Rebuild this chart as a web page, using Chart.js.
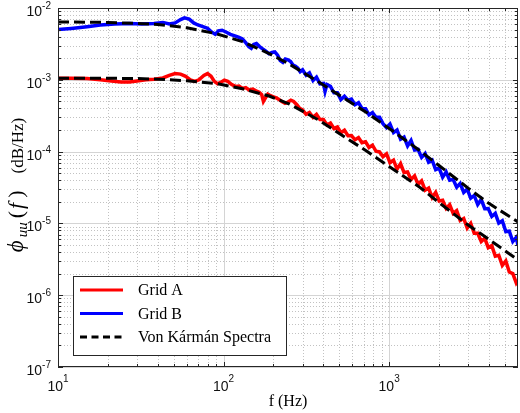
<!DOCTYPE html>
<html>
<head>
<meta charset="utf-8">
<script src="https://cdn.jsdelivr.net/npm/chart.js@4.4.1/dist/chart.umd.min.js"></script>
<style>
html, body { margin: 0; padding: 0; background: #fff; }
#wrap { width: 520px; height: 413px; position: relative; }
</style>
</head>
<body>
<div id="wrap"><canvas id="myChart"></canvas></div>
<script>
// Grid A (red)
var freqA = [10, 12, 15, 18, 21, 24, 27, 30, 34, 38, 43, 47, 51, 55, 59, 63, 67, 71, 76, 80, 84, 88, 92, 96,
  101, 106, 112, 118, 124, 130, 136, 143, 150, 157, 164, 170, 174, 179, 185, 192, 200, 208, 216, 225, 235,
  245, 255, 265, 277, 288,
  300, 315, 330, 347, 364, 382, 401, 421, 442, 464, 487, 511, 537, 564, 592, 622, 653, 685, 720, 756, 793,
  833, 875, 918, 964, 1012, 1063, 1116, 1172, 1230, 1292, 1356, 1424, 1495, 1570, 1649, 1731, 1818, 1909,
  2004, 2104, 2209, 2320, 2436, 2558, 2685, 2820, 2961, 3109, 3264, 3427, 3599, 3779, 3968, 4166, 4374,
  4593, 4823, 5064, 5317, 5583, 5862, 6000];
var gridA = [1.05e-3, 1.05e-3, 1.04e-3, 1.0e-3, 9.6e-4, 9.3e-4, 9.3e-4, 9.6e-4, 1.0e-3, 1.02e-3, 1.06e-3,
  1.15e-3, 1.22e-3, 1.2e-3, 1.12e-3, 1.0e-3, 9.5e-4, 1.0e-3, 1.15e-3, 1.22e-3, 1.12e-3, 9.5e-4, 8.8e-4, 9.2e-4,
  9.9e-4, 9.5e-4, 8.6e-4, 8.1e-4, 8.2e-4, 7.6e-4, 7.8e-4, 7.2e-4, 7.4e-4, 7.0e-4, 6.7e-4, 6.2e-4, 5.0e-4,
  5.6e-4, 6.3e-4, 6.0e-4, 5.8e-4, 5.6e-4, 5.3e-4, 5.0e-4, 4.7e-4, 4.9e-4, 5.2e-4, 5.0e-4, 4.5e-4, 4.0e-4,
  3.8e-4, 3.3e-4, 3.5e-4, 3.0e-4, 3.3e-4, 2.8e-4, 2.8e-4, 2.35e-4, 2.5e-4, 2.1e-4, 2.2e-4, 1.83e-4, 1.98e-4,
  1.66e-4, 1.67e-4, 1.46e-4, 1.57e-4, 1.33e-4, 1.37e-4, 1.14e-4, 1.23e-4, 1.01e-4, 9.9e-5, 8.5e-5,
  9.3e-5, 7.0e-5, 7.6e-5, 5.7e-5, 6.8e-5, 5.1e-5, 5.2e-5, 4.1e-5, 4.6e-5, 3.5e-5, 3.9e-5, 2.9e-5, 3.1e-5,
  2.3e-5, 2.7e-5, 2.05e-5, 2.1e-5, 1.62e-5, 1.82e-5, 1.38e-5, 1.51e-5, 1.1e-5, 1.17e-5, 8.6e-6, 1.0e-5,
  7.3e-6, 7.3e-6, 5.6e-6, 6.2e-6, 4.6e-6, 4.9e-6, 3.5e-6, 3.6e-6, 2.6e-6, 3.0e-6, 2.1e-6, 2.0e-6, 1.47e-6, 1.58e-6];

// Grid B (blue)
var freqB = [10, 12, 15, 18, 22, 27, 32, 38, 43, 47, 51, 55, 58, 62, 66, 70, 75, 80, 85, 89, 93, 98, 104,
  110, 117, 124, 130, 136, 142, 147, 152, 158, 165, 172, 180, 188, 196, 204, 212, 220, 228, 236, 245, 254,
  263, 272, 281, 290,
  300, 315, 330, 347, 364, 382, 401, 410, 421, 442, 464, 487, 511, 537, 564, 592, 622, 653, 685, 720, 756,
  793, 833, 875, 918, 964, 1012, 1063, 1116, 1172, 1230, 1292, 1356, 1424, 1495, 1570, 1649, 1731, 1818,
  1909, 2004, 2104, 2209, 2320, 2436, 2558, 2685, 2820, 2961, 3109, 3264, 3427, 3599, 3779, 3968, 4166,
  4374, 4593, 4823, 5064, 5317, 5583, 5862, 6000];
var gridB = [5.0e-3, 5.2e-3, 5.5e-3, 5.8e-3, 6.0e-3, 6.1e-3, 6.0e-3, 6.1e-3, 6.3e-3, 6.0e-3, 6.2e-3, 6.9e-3,
  7.3e-3, 7.0e-3, 6.2e-3, 5.8e-3, 5.5e-3, 5.2e-3, 4.6e-3, 4.3e-3, 4.8e-3, 4.9e-3, 4.6e-3, 4.3e-3, 4.1e-3,
  3.9e-3, 3.7e-3, 3.3e-3, 2.9e-3, 2.75e-3, 3.1e-3, 3.2e-3, 2.9e-3, 2.7e-3, 2.5e-3, 2.3e-3, 2.4e-3, 2.45e-3,
  2.2e-3, 1.85e-3, 1.75e-3, 1.95e-3, 1.9e-3, 1.8e-3, 1.6e-3, 1.55e-3, 1.45e-3, 1.3e-3,
  1.38e-3, 1.16e-3, 1.25e-3, 9.8e-4, 1.09e-3, 8.8e-4, 8.9e-4, 6.9e-4, 8.6e-4, 8.1e-4, 6.6e-4, 6.6e-4, 5.3e-4,
  5.9e-4, 5.2e-4, 5.4e-4, 4.5e-4, 4.8e-4, 4.0e-4, 3.95e-4, 3.25e-4, 3.5e-4, 3.0e-4, 3.0e-4, 2.45e-4,
  2.16e-4, 2.42e-4, 1.84e-4, 2.0e-4, 1.49e-4, 1.59e-4, 1.2e-4, 1.43e-4, 1.05e-4, 1.07e-4, 8.3e-5, 9.4e-5,
  7.1e-5, 7.6e-5, 5.6e-5, 5.9e-5, 4.4e-5, 5.2e-5, 4.0e-5, 4.1e-5, 3.2e-5, 3.6e-5, 2.7e-5, 3.0e-5, 2.25e-5,
  2.45e-5, 1.83e-5, 2.15e-5, 1.6e-5, 1.61e-5, 1.25e-5, 1.38e-5, 1.01e-5, 1.09e-5, 7.7e-6, 7.8e-6, 5.6e-6,
  6.4e-6, 4.9e-6];

// Von Karman fits
var freqVK = [10, 20, 30, 40, 60, 90, 130, 190, 250, 370, 550, 730, 1000, 1500, 2000, 3000, 4000, 6000];
var vkA = [1.05e-3, 1.05e-3, 1.04e-3, 1.02e-3, 9.7e-4, 8.9e-4, 7.5e-4, 5.9e-4, 4.6e-4, 2.8e-4, 1.55e-4,
  1.02e-4, 6.2e-5, 3.3e-5, 1.95e-5, 9.5e-6, 6.0e-6, 3.1e-6];
var vkB = [6.4e-3, 6.3e-3, 6.1e-3, 5.9e-3, 5.3e-3, 4.4e-3, 3.4e-3, 2.3e-3, 1.65e-3, 9.5e-4, 5.3e-4,
  3.5e-4, 2.1e-4, 1.07e-4, 6.4e-5, 3.1e-5, 1.9e-5, 1.05e-5];

var xTicks = [10, 100, 1000];
var xTickExp = ['1', '2', '3'];
var yTicks = [1e-2, 1e-3, 1e-4, 1e-5, 1e-6, 1e-7];
var yTickExp = ['-2', '-3', '-4', '-5', '-6', '-7'];
var legendLabels = ['Grid A', 'Grid B', 'Von Kármán Spectra'];

function pts(fs, vs) {
  var out = [];
  for (let i = 0; i < fs.length; i++) out.push({x: fs[i], y: vs[i]});
  return out;
}

const SERIF = '"Liberation Serif", "Times New Roman", serif';
const SANS = '"Liberation Sans", Arial, sans-serif';

const decor = {
  id: 'decor',
  beforeDatasetsDraw(chart) {
    const {ctx, chartArea: a, scales: {x, y}} = chart;
    ctx.save();
    ctx.lineWidth = 1;
    // minor grid (dotted)
    ctx.setLineDash([1, 2]);
    ctx.strokeStyle = '#c2c2c2';
    ctx.beginPath();
    for (let d = 10; d <= 1000; d *= 10) {
      for (let m = 2; m <= 9; m++) {
        const v = m * d;
        if (v >= 6000) continue;
        const px = Math.round(x.getPixelForValue(v)) + 0.5;
        ctx.moveTo(px, a.top); ctx.lineTo(px, a.bottom);
      }
    }
    for (let d = 1e-7; d < 1e-2 * 0.99; d *= 10) {
      for (let m = 2; m <= 9; m++) {
        const py = Math.round(y.getPixelForValue(m * d)) + 0.5;
        ctx.moveTo(a.left, py); ctx.lineTo(a.right, py);
      }
    }
    ctx.stroke();
    // major grid
    ctx.setLineDash([]);
    ctx.strokeStyle = '#d4d4d4';
    ctx.beginPath();
    xTicks.forEach(v => {
      const px = Math.round(x.getPixelForValue(v)) + 0.5;
      ctx.moveTo(px, a.top); ctx.lineTo(px, a.bottom);
    });
    yTicks.forEach(v => {
      const py = Math.round(y.getPixelForValue(v)) + 0.5;
      ctx.moveTo(a.left, py); ctx.lineTo(a.right, py);
    });
    ctx.stroke();
    ctx.restore();
  },
  afterDraw(chart) {
    const {ctx, chartArea: a, scales: {x, y}} = chart;
    ctx.save();
    // box
    ctx.strokeStyle = '#262626';
    ctx.lineWidth = 1;
    ctx.strokeRect(a.left + 0.5, a.top + 0.5, a.right - a.left - 1, a.bottom - a.top - 1);
    // inside ticks
    ctx.beginPath();
    for (let d = 10; d <= 1000; d *= 10) {
      for (let m = 1; m <= 9; m++) {
        const v = m * d;
        if (v >= 6000) continue;
        const len = m === 1 ? 5 : 3;
        const px = Math.round(x.getPixelForValue(v)) + 0.5;
        ctx.moveTo(px, a.bottom); ctx.lineTo(px, a.bottom - len);
        ctx.moveTo(px, a.top); ctx.lineTo(px, a.top + len);
      }
    }
    for (let d = 1e-7; d < 1e-2 * 1.01; d *= 10) {
      for (let m = 1; m <= 9; m++) {
        const v = m * d;
        if (v > 1.01e-2) continue;
        const len = m === 1 ? 5 : 3;
        const py = Math.round(y.getPixelForValue(v)) + 0.5;
        ctx.moveTo(a.left, py); ctx.lineTo(a.left + len, py);
        ctx.moveTo(a.right, py); ctx.lineTo(a.right - len, py);
      }
    }
    ctx.stroke();

    // tick labels
    ctx.fillStyle = '#111';
    ctx.textBaseline = 'alphabetic';
    yTicks.forEach((v, i) => {
      const py = y.getPixelForValue(v);
      ctx.font = '10px ' + SANS;
      const sw = ctx.measureText(yTickExp[i]).width;
      ctx.textAlign = 'left';
      ctx.fillText(yTickExp[i], 51 - sw, py + 1);
      ctx.font = '14px ' + SANS;
      ctx.textAlign = 'right';
      ctx.fillText('10', 51 - sw, py + 8);
    });
    xTicks.forEach((v, i) => {
      const px = x.getPixelForValue(v);
      ctx.font = '14px ' + SANS;
      const bw = ctx.measureText('10').width;
      ctx.font = '10px ' + SANS;
      const sw = ctx.measureText(xTickExp[i]).width;
      const x0 = px - (bw + sw) / 2;
      ctx.textAlign = 'left';
      ctx.fillText(xTickExp[i], x0 + bw, 382);
      ctx.font = '14px ' + SANS;
      ctx.fillText('10', x0, 391);
    });

    // x title
    ctx.fillStyle = '#000';
    ctx.font = '16px ' + SERIF;
    ctx.textAlign = 'center';
    ctx.fillText('f (Hz)', (a.left + a.right) / 2, 406);

    // y title (rotated, math part italic)
    const parts = [
      {t: 'ϕ', f: 'italic 23px ' + SERIF, dy: 0, pad: 3},
      {t: 'uu', f: 'italic 15px ' + SERIF, dy: 4, pad: 4},
      {t: '(', f: '22px ' + SERIF, dy: 0, pad: 2},
      {t: 'f', f: 'italic 22px ' + SERIF, dy: 0, pad: 5},
      {t: ')', f: '22px ' + SERIF, dy: 0, pad: 0},
      {t: '\u2003(dB/Hz)', f: '17px ' + SERIF, dy: 0, pad: 0}
    ];
    let total = 0;
    parts.forEach(p => { ctx.font = p.f; p.w = ctx.measureText(p.t).width + p.pad; total += p.w; });
    ctx.translate(23, 185);
    ctx.rotate(-Math.PI / 2);
    ctx.textAlign = 'left';
    let cx = -total / 2;
    parts.forEach(p => {
      ctx.font = p.f;
      ctx.fillText(p.t, cx, p.dy);
      cx += p.w;
    });
    ctx.restore();

    // legend
    ctx.save();
    const lx = 73, ly = 276, lw = 213, lh = 79;
    ctx.fillStyle = '#fff';
    ctx.fillRect(lx, ly, lw, lh);
    ctx.strokeStyle = '#262626';
    ctx.lineWidth = 1;
    ctx.strokeRect(lx + 0.5, ly + 0.5, lw, lh);
    const ds = chart.data.datasets;
    const rows = [ds[2], ds[3], ds[0]];
    rows.forEach((d, i) => {
      const ry = 290 + i * 23.5;
      ctx.strokeStyle = d.borderColor;
      ctx.lineWidth = 3;
      ctx.setLineDash(d.borderDash ? [7, 4.5] : []);
      ctx.beginPath();
      ctx.moveTo(80, ry); ctx.lineTo(123, ry);
      ctx.stroke();
      ctx.setLineDash([]);
      ctx.fillStyle = '#000';
      ctx.font = '16px ' + SERIF;
      ctx.textAlign = 'left';
      ctx.textBaseline = 'alphabetic';
      ctx.fillText(legendLabels[i], 138, ry + 5);
    });
    ctx.restore();
  }
};

const ctx = document.getElementById('myChart');

new Chart(ctx, {
  type: 'line',
  data: {
    datasets: [
      { label: 'Von Kármán A', data: pts(freqVK, vkA), borderColor: '#000000', borderWidth: 3,
        borderDash: [11, 5], pointRadius: 0, order: 0 },
      { label: 'Von Kármán B', data: pts(freqVK, vkB), borderColor: '#000000', borderWidth: 3,
        borderDash: [11, 5], pointRadius: 0, order: 0 },
      { label: 'Grid A', data: pts(freqA, gridA), borderColor: '#ff0000', borderWidth: 3.5,
        pointRadius: 0, order: 1 },
      { label: 'Grid B', data: pts(freqB, gridB), borderColor: '#0000ff', borderWidth: 3.5,
        pointRadius: 0, order: 1 }
    ]
  },
  options: {
    responsive: true,
    maintainAspectRatio: false,
    animation: false,
    layout: { padding: { left: 58, top: 8, right: 2, bottom: 46 } },
    plugins: { legend: { display: false }, tooltip: { enabled: false } },
    scales: {
      x: {
        type: 'logarithmic', min: 10, max: 6000,
        ticks: { display: false },
        grid: { display: false, drawTicks: false },
        border: { display: false }
      },
      y: {
        type: 'logarithmic', min: 1e-7, max: 1e-2,
        ticks: { display: false },
        grid: { display: false, drawTicks: false },
        border: { display: false }
      }
    }
  },
  plugins: [decor]
});
</script>
</body>
</html>
